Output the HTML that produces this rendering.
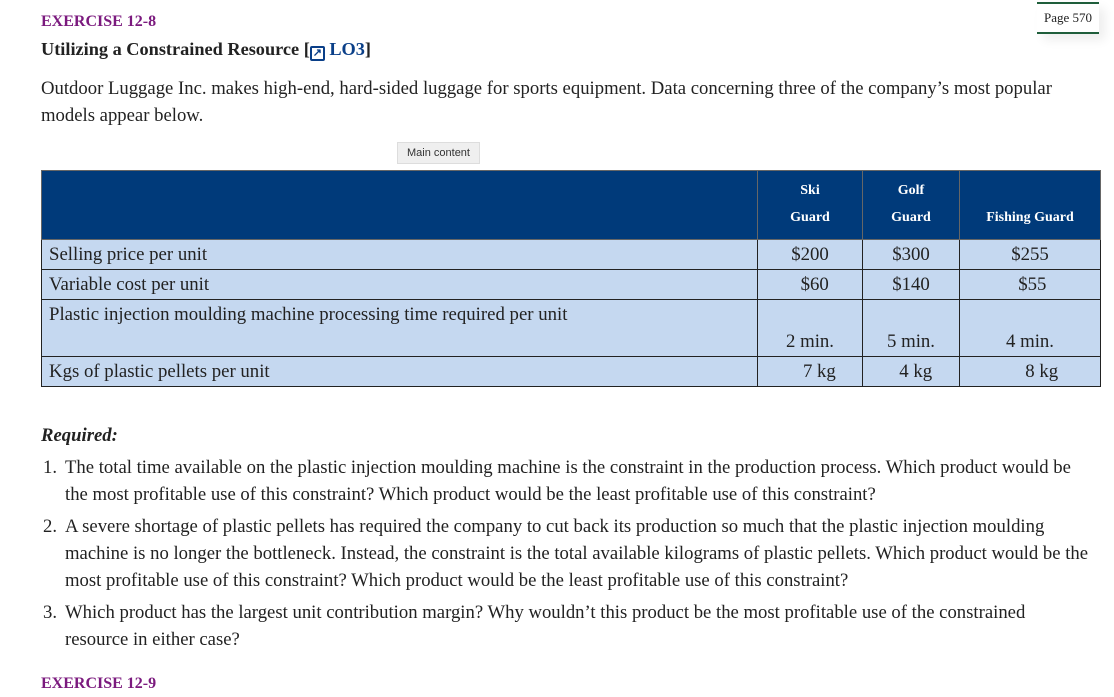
<!DOCTYPE html>
<html><head><meta charset="utf-8"><style>
body{margin:0;width:1114px;height:679px;overflow:hidden;background:#fff;position:relative;font-family:"Liberation Serif",serif;color:#222}
.l{position:absolute;white-space:nowrap;font-size:18.7px;line-height:27px}
.b{font-weight:bold}
table{position:absolute;left:41px;top:170px;width:1060px;border-collapse:collapse;font-size:18.8px}
td,th{border:1px solid #222;padding:0;}
th{background:#003a7a;color:#fff;font-size:14px;border-color:#666;vertical-align:bottom;line-height:27px;padding-bottom:8px}
td{background:#c5d8f0;line-height:29px}
td.n{text-align:center}
td.lbl{padding-left:7px}
</style></head><body>
<div class="l b" style="left:41px;top:8px;color:#7b1a7e;font-size:16px">EXERCISE 12-8</div>
<div class="l b" style="left:41px;top:36px;font-size:18.3px">Utilizing a Constrained Resource [<span style="color:#0a3f88"><span style="display:inline-block;width:15px;height:15px;border:2px solid #0a3f88;border-radius:2px;box-sizing:border-box;font-size:11px;line-height:10px;text-align:center;vertical-align:-1px">↗</span> LO3</span>]</div>
<div style="position:absolute;left:1037px;top:2px;width:62px;height:28px;border-top:2px solid #1f5e3b;border-bottom:2px solid #1f5e3b;font-size:13px;line-height:28px;text-align:center;box-shadow:6px 6px 10px #eee">Page 570</div>
<div class="l" style="left:41px;top:75px">Outdoor Luggage Inc. makes high-end, hard-sided luggage for sports equipment. Data concerning three of the company’s most popular</div>
<div class="l" style="left:41px;top:102px">models appear below.</div>
<div style="position:absolute;left:397px;top:142px;width:81px;height:20px;background:#efefef;border:1px solid #ddd;font:11px 'Liberation Sans',sans-serif;line-height:20px;text-align:center;color:#333">Main content</div>
<table>
<tr style="height:69px"><th style="width:715px"></th><th style="width:104px">Ski<br>Guard</th><th style="width:96px">Golf<br>Guard</th><th>Fishing Guard</th></tr>
<tr><td class="lbl">Selling price per unit</td><td class="n">$200</td><td class="n">$300</td><td class="n">$255</td></tr>
<tr><td class="lbl">Variable cost per unit</td><td class="n">&nbsp;&nbsp;$60</td><td class="n">$140</td><td class="n">&nbsp;$55</td></tr>
<tr style="height:57px"><td class="lbl" style="vertical-align:top">Plastic injection moulding machine processing time required per unit</td><td class="n" style="vertical-align:bottom">2 min.</td><td class="n" style="vertical-align:bottom">5 min.</td><td class="n" style="vertical-align:bottom">4 min.</td></tr>
<tr><td class="lbl">Kgs of plastic pellets per unit</td><td class="n">&nbsp;&nbsp;&nbsp;&nbsp;7 kg</td><td class="n">&nbsp;&nbsp;4 kg</td><td class="n">&nbsp;&nbsp;&nbsp;&nbsp;&nbsp;8 kg</td></tr>
</table>
<div class="l b" style="left:41px;top:422px;font-style:italic">Required:</div>
<div class="l" style="left:43px;top:454px">1.</div>
<div class="l" style="left:65px;top:454px">The total time available on the plastic injection moulding machine is the constraint in the production process. Which product would be</div>
<div class="l" style="left:65px;top:481px">the most profitable use of this constraint? Which product would be the least profitable use of this constraint?</div>
<div class="l" style="left:43px;top:513px">2.</div>
<div class="l" style="left:65px;top:513px">A severe shortage of plastic pellets has required the company to cut back its production so much that the plastic injection moulding</div>
<div class="l" style="left:65px;top:540px">machine is no longer the bottleneck. Instead, the constraint is the total available kilograms of plastic pellets. Which product would be the</div>
<div class="l" style="left:65px;top:567px">most profitable use of this constraint? Which product would be the least profitable use of this constraint?</div>
<div class="l" style="left:43px;top:599px">3.</div>
<div class="l" style="left:65px;top:599px">Which product has the largest unit contribution margin? Why wouldn’t this product be the most profitable use of the constrained</div>
<div class="l" style="left:65px;top:626px">resource in either case?</div>
<div class="l b" style="left:41px;top:670px;color:#7b1a7e;font-size:16px">EXERCISE 12-9</div>
</body></html>
